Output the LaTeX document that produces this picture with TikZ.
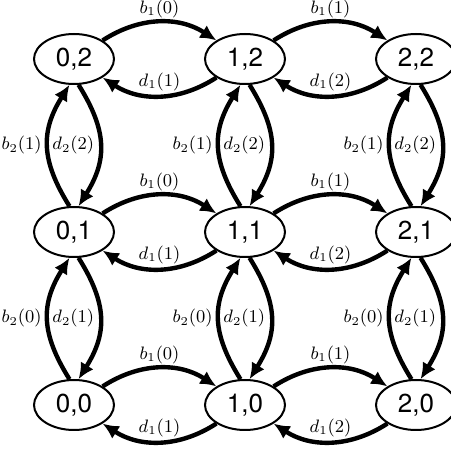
\documentclass[tikz,border=0pt]{standalone}
\usepackage{fontspec}
\setsansfont{TeX Gyre Heros}
\usetikzlibrary{arrows.meta, positioning, shapes.geometric}

\tikzset{
  state/.style={ellipse, draw, line width=1pt, minimum width=40pt, minimum height=25pt,
    inner sep=0pt, font=\sffamily\fontsize{13}{15}\selectfont},
  rate/.style={-{Latex[length=8pt,width=7.5pt]}, line width=2.2pt},
  lbl/.style={font=\fontsize{9}{11}\selectfont, inner sep=2pt},
  hlbl/.style={lbl, above, inner sep=1.2pt},
  hbend/.style={bend left=33},
  vbend/.style={bend left=32, looseness=1.15},
}

\begin{document}
\begin{tikzpicture}[node distance=60.5pt and 44.5pt]
  \useasboundingbox (-37pt,-23pt) rectangle (188.5pt,202.5pt);

  \node[state] (n00) {0,0};
  \node[state, right=of n00] (n10) {1,0};
  \node[state, right=of n10] (n20) {2,0};
  \node[state, above=of n00] (n01) {0,1};
  \node[state, right=of n01] (n11) {1,1};
  \node[state, right=of n11] (n21) {2,1};
  \node[state, above=of n01] (n02) {0,2};
  \node[state, right=of n02] (n12) {1,2};
  \node[state, right=of n12] (n22) {2,2};

  % births and deaths along the first coordinate
  \foreach \r in {0,1,2} {
    \draw[rate] (n0\r) to[hbend] node[hlbl] {$b_1(0)$} (n1\r);
    \draw[rate] (n1\r) to[hbend] node[hlbl] {$d_1(1)$} (n0\r);
    \draw[rate] (n1\r) to[hbend] node[hlbl] {$b_1(1)$} (n2\r);
    \draw[rate] (n2\r) to[hbend] node[hlbl] {$d_1(2)$} (n1\r);
  }

  % births and deaths along the second coordinate
  \foreach \c in {0,1,2} {
    \draw[rate] (n\c0.100) to[vbend] node[lbl, left] {$b_2(0)$} (n\c1.260);
    \draw[rate] (n\c1.280) to[vbend] node[lbl, left] {$d_2(1)$} (n\c0.80);
    \draw[rate] (n\c1.100) to[vbend] node[lbl, left] {$b_2(1)$} (n\c2.260);
    \draw[rate] (n\c2.280) to[vbend] node[lbl, left] {$d_2(2)$} (n\c1.80);
  }
\end{tikzpicture}
\end{document}
